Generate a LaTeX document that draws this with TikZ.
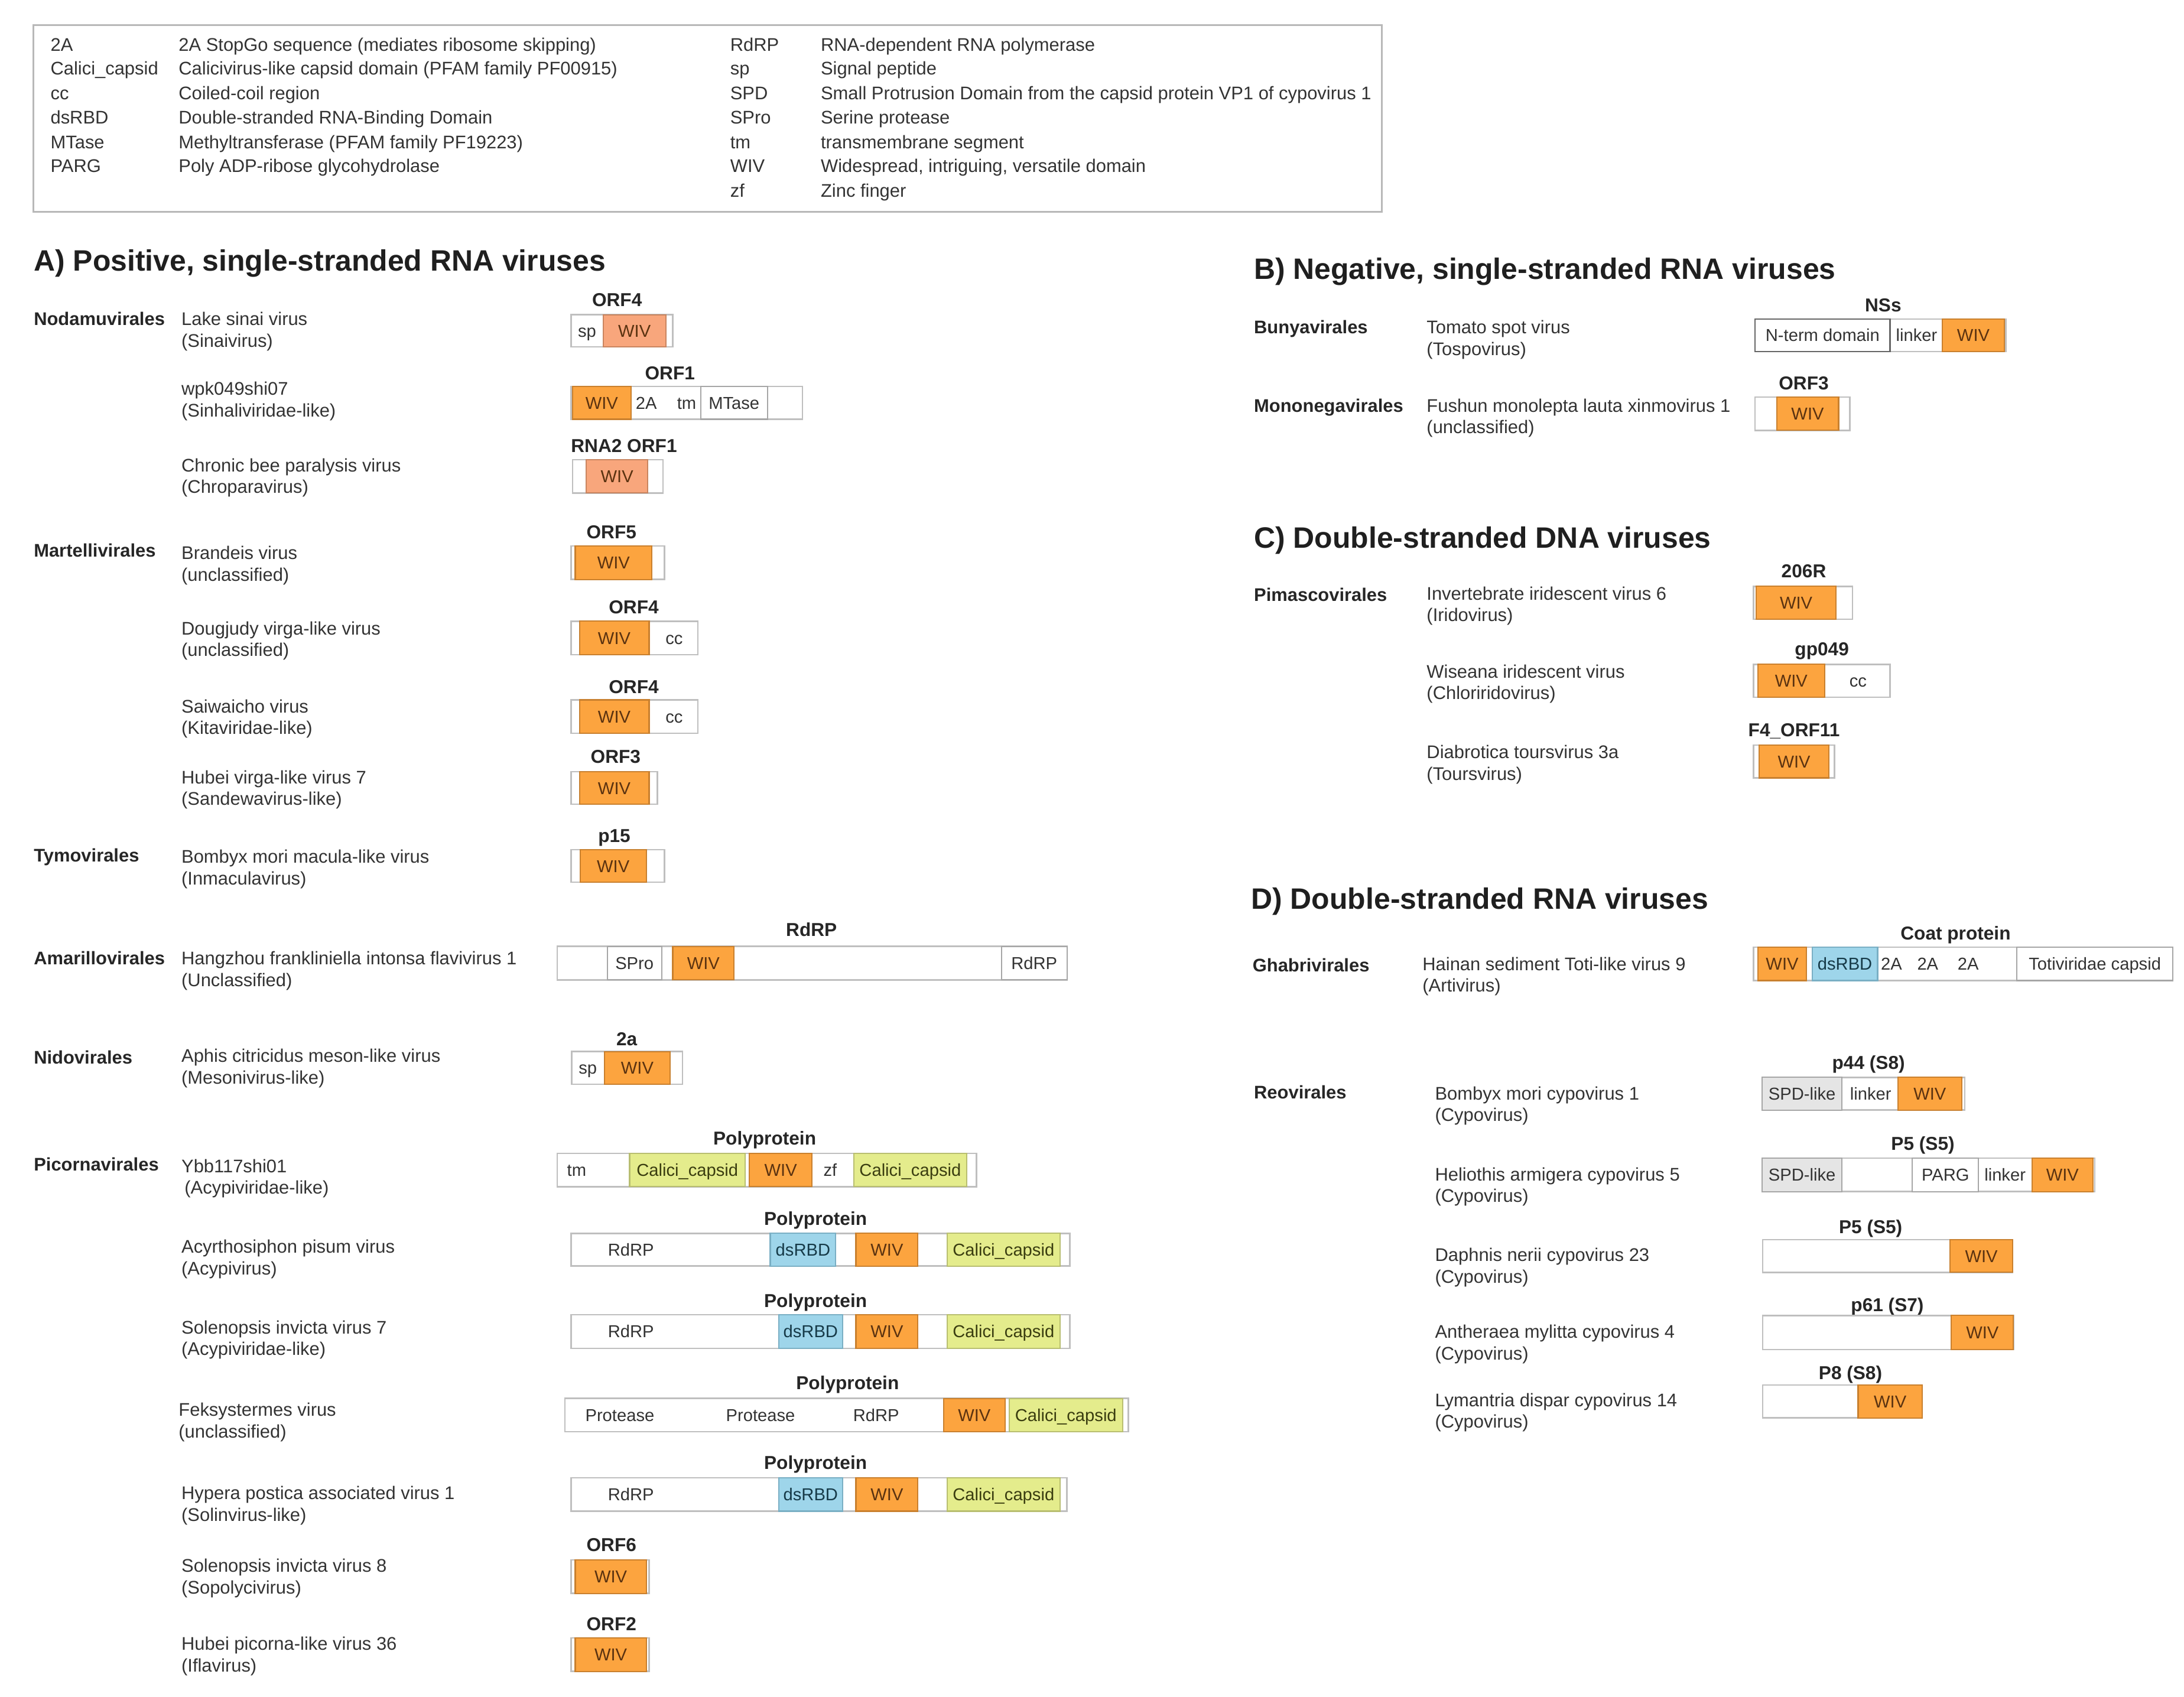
\documentclass[tikz,border=0pt]{standalone}
\usepackage{fontspec}
\setmainfont{Liberation Sans}
\definecolor{txt}{HTML}{333333}
\definecolor{wiv}{HTML}{FCA43F}
\definecolor{wivd}{HTML}{C9802E}
\definecolor{wivt}{HTML}{5A3210}
\definecolor{sal}{HTML}{F8A67C}
\definecolor{sald}{HTML}{C98560}
\definecolor{cal}{HTML}{E4EC8C}
\definecolor{cald}{HTML}{B8BE70}
\definecolor{calt}{HTML}{3A3D10}
\definecolor{dsr}{HTML}{9ED5EA}
\definecolor{dsd}{HTML}{7AAFC4}
\definecolor{dst}{HTML}{163A48}
\tikzset{
  vn/.style={anchor=west, inner sep=0pt, text height=6.3pt, text depth=0pt, font=\fontsize{8.8}{10}\selectfont, text=txt},
  ordl/.style={vn, font=\fontsize{8.8}{10}\selectfont\bfseries, text=black!85},
  ttl/.style={anchor=west, inner sep=0pt, text height=10.2pt, text depth=0pt, font=\fontsize{14.2}{16}\selectfont\bfseries, text=black!88},
  plabel/.style={inner sep=0pt, text height=6.4pt, text depth=0pt, font=\fontsize{9}{10}\selectfont\bfseries, text=black!85},
  dtx/.style={inner sep=0pt, text height=5.95pt, text depth=0pt, font=\fontsize{8.3}{10}\selectfont, text=txt},
  pout/.style={draw=black!25, fill=white, line width=0.7pt},
  wivbox/.style={fill=wiv, draw=wivd, line width=0.6pt},
  wivtxt/.style={text=wivt},
  salbox/.style={fill=sal, draw=sald, line width=0.6pt},
  saltxt/.style={text=wivt},
  calbox/.style={fill=cal, draw=cald, line width=0.6pt},
  caltxt/.style={text=calt},
  dsbox/.style={fill=dsr, draw=dsd, line width=0.6pt},
  dstxt/.style={text=dst},
  spdbox/.style={fill=black!10, draw=black!35, line width=0.6pt},
  spdtxt/.style={text=txt},
  whbox/.style={fill=white, draw=black!35, line width=0.6pt},
  whtxt/.style={text=txt},
  ntmbox/.style={fill=white, draw=black!60, line width=0.7pt},
  ntmtxt/.style={text=txt},
  legbox/.style={draw=black!28, line width=0.8pt}
}
\newcommand\vir[5]{\node[vn] (#1) at (#2,#3) {#4};\node[vn] (#1s) at (#2,{#3+15.5}) {#5};}
\newcommand\plab[4]{\node[plabel] (#1) at (#2,#3) {#4};}
\newcommand\pbar[4]{\draw[pout] (#1,#3) rectangle (#2,#4);}
\newcommand\ptxt[4]{\node[dtx] (#1) at (#2,#3) {#4};}
\newcommand\pdom[7]{\draw[#1box] (#2,#4) rectangle (#3,#5);\node[dtx,#1txt] (#6) at ({(#2+#3)/2},{(#4+#5)/2}) {#7};}
\begin{document}
\begin{tikzpicture}[x=0.02357cm,y=-0.02357cm]
\fill[white] (0,0) rectangle (1568,1218.4);
\useasboundingbox (0,0) rectangle (1568,1218.4);

% ---------------- legend ----------------
\draw[legbox] (24,18) rectangle (992,152);
\node[vn] (l1) at (36,32) {2A};
\node[vn] (l1d) at (128,32) {2A StopGo sequence (mediates ribosome skipping)};
\node[vn] (l2) at (36,49) {Calici\_capsid};
\node[vn] (l2d) at (128,49) {Calicivirus-like capsid domain (PFAM family PF00915)};
\node[vn] (l3) at (36,67) {cc};
\node[vn] (l3d) at (128,67) {Coiled-coil region};
\node[vn] (l4) at (36,84) {dsRBD};
\node[vn] (l4d) at (128,84) {Double-stranded RNA-Binding Domain};
\node[vn] (l5) at (36,102) {MTase};
\node[vn] (l5d) at (128,102) {Methyltransferase (PFAM family PF19223)};
\node[vn] (l6) at (36,119) {PARG};
\node[vn] (l6d) at (128,119) {Poly ADP-ribose glycohydrolase};
\node[vn] (r1) at (524,32) {RdRP};
\node[vn] (r1d) at (589,32) {RNA-dependent RNA polymerase};
\node[vn] (r2) at (524,49) {sp};
\node[vn] (r2d) at (589,49) {Signal peptide};
\node[vn] (r3) at (524,67) {SPD};
\node[vn] (r3d) at (589,67) {Small Protrusion Domain from the capsid protein VP1 of cypovirus 1};
\node[vn] (r4) at (524,84) {SPro};
\node[vn] (r4d) at (589,84) {Serine protease};
\node[vn] (r5) at (524,102) {tm};
\node[vn] (r5d) at (589,102) {transmembrane segment};
\node[vn] (r6) at (524,119) {WIV};
\node[vn] (r6d) at (589,119) {Widespread, intriguing, versatile domain};
\node[vn] (r7) at (524,137) {zf};
\node[vn] (r7d) at (589,137) {Zinc finger};

% ---------------- titles ----------------
\node[ttl] (tA) at (24,187) {A) Positive, single-stranded RNA viruses};
\node[ttl] (tB) at (900,193) {B) Negative, single-stranded RNA viruses};
\node[ttl] (tC) at (900,386) {C) Double-stranded DNA viruses};
\node[ttl] (tD) at (898,645) {D) Double-stranded RNA viruses};

% ---------------- orders ----------------
\node[ordl] (oa1) at (24,229) {Nodamuvirales};
\node[ordl] (oa2) at (24,395) {Martellivirales};
\node[ordl] (oa3) at (24,614) {Tymovirales};
\node[ordl] (oa4) at (24,688) {Amarillovirales};
\node[ordl] (oa5) at (24,759) {Nidovirales};
\node[ordl] (oa6) at (24,836) {Picornavirales};
\node[ordl] (ob1) at (900,235) {Bunyavirales};
\node[ordl] (ob2) at (900,291) {Mononegavirales};
\node[ordl] (oc1) at (900,427) {Pimascovirales};
\node[ordl] (od1) at (899,693) {Ghabrivirales};
\node[ordl] (od2) at (900,784) {Reovirales};

% ---------------- virus names ----------------
\vir{va1}{130}{229}{Lake sinai virus}{(Sinaivirus)}
\vir{va2}{130}{279}{wpk049shi07}{(Sinhaliviridae-like)}
\vir{va3}{130}{334}{Chronic bee paralysis virus}{(Chroparavirus)}
\vir{va4}{130}{397}{Brandeis virus}{(unclassified)}
\vir{va5}{130}{451}{Dougjudy virga-like virus}{(unclassified)}
\vir{va6}{130}{507}{Saiwaicho virus}{(Kitaviridae-like)}
\vir{va7}{130}{558}{Hubei virga-like virus 7}{(Sandewavirus-like)}
\vir{va8}{130}{615}{Bombyx mori macula-like virus}{(Inmaculavirus)}
\vir{va9}{130}{688}{Hangzhou frankliniella intonsa flavivirus 1}{(Unclassified)}
\vir{va10}{130}{758}{Aphis citricidus meson-like virus}{(Mesonivirus-like)}
\vir{va11}{130}{837}{Ybb117shi01}{\hspace{1.5pt}(Acypiviridae-like)}
\vir{va12}{130}{895}{Acyrthosiphon pisum virus}{(Acypivirus)}
\vir{va13}{130}{953}{Solenopsis invicta virus 7}{(Acypiviridae-like)}
\vir{va14}{128}{1012}{Feksystermes virus}{(unclassified)}
\vir{va15}{130}{1072}{Hypera postica associated virus 1}{(Solinvirus-like)}
\vir{va16}{130}{1124}{Solenopsis invicta virus 8}{(Sopolycivirus)}
\vir{va17}{130}{1180}{Hubei picorna-like virus 36}{(Iflavirus)}
\vir{vb1}{1024}{235}{Tomato spot virus}{(Tospovirus)}
\vir{vb2}{1024}{291}{Fushun monolepta lauta xinmovirus 1}{(unclassified)}
\vir{vc1}{1024}{426}{Invertebrate iridescent virus 6}{(Iridovirus)}
\vir{vc2}{1024}{482}{Wiseana iridescent virus}{(Chloriridovirus)}
\vir{vc3}{1024}{540}{Diabrotica toursvirus 3a}{(Toursvirus)}
\vir{vd1}{1021}{692}{Hainan sediment Toti-like virus 9}{(Artivirus)}
\vir{vd2}{1030}{785}{Bombyx mori cypovirus 1}{(Cypovirus)}
\vir{vd3}{1030}{843}{Heliothis armigera cypovirus 5}{(Cypovirus)}
\vir{vd4}{1030}{901}{Daphnis nerii cypovirus 23}{(Cypovirus)}
\vir{vd5}{1030}{956}{Antheraea mylitta cypovirus 4}{(Cypovirus)}
\vir{vd6}{1030}{1005}{Lymantria dispar cypovirus 14}{(Cypovirus)}

% ---------------- proteins A ----------------
\plab{pa1}{443}{215}{ORF4}
\pbar{410}{483}{226}{249}
\ptxt{pa1s}{421.5}{237.5}{sp}
\pdom{sal}{433}{478}{226}{249}{pa1w}{WIV}

\plab{pa2}{481}{268}{ORF1}
\pbar{410}{576}{277.5}{301}
\pdom{wiv}{411}{453}{277.5}{301}{pa2w}{WIV}
\ptxt{pa2a}{464}{289.25}{2A}
\ptxt{pa2t}{493}{289.25}{tm}
\pdom{wh}{503}{551}{277.5}{301}{pa2m}{MTase}

\plab{pa3}{448}{320}{RNA2 ORF1}
\pbar{411}{476}{330}{354}
\pdom{sal}{421}{465}{330}{354}{pa3w}{WIV}

\plab{pa4}{439}{382}{ORF5}
\pbar{410}{477}{392}{416}
\pdom{wiv}{413}{468}{392}{416}{pa4w}{WIV}

\plab{pa5}{455}{436}{ORF4}
\pbar{410}{501}{446}{470}
\pdom{wiv}{416}{466}{446}{470}{pa5w}{WIV}
\ptxt{pa5c}{484}{458}{cc}

\plab{pa6}{455}{493}{ORF4}
\pbar{410}{501}{502.5}{526.5}
\pdom{wiv}{416}{466}{502.5}{526.5}{pa6w}{WIV}
\ptxt{pa6c}{484}{514.5}{cc}

\plab{pa7}{442}{543}{ORF3}
\pbar{410}{472}{554}{577.5}
\pdom{wiv}{416}{466}{554}{577.5}{pa7w}{WIV}

\plab{pa8}{441}{600}{p15}
\pbar{410}{477}{610}{633.5}
\pdom{wiv}{416.5}{464}{610}{633.5}{pa8w}{WIV}

\plab{pa9}{582.6}{667.5}{RdRP}
\pbar{400}{766}{679.5}{703.5}
\pdom{wh}{436}{475}{679.5}{703.5}{pa9s}{SPro}
\pdom{wiv}{483}{527}{679.5}{703.5}{pa9w}{WIV}
\pdom{wh}{719}{766}{679.5}{703.5}{pa9r}{RdRP}

\plab{pa10}{450}{746}{2a}
\pbar{410.5}{490}{755}{778.5}
\ptxt{pa10s}{422}{766.75}{sp}
\pdom{wiv}{434}{481}{755}{778.5}{pa10w}{WIV}

\plab{pa11}{549}{817}{Polyprotein}
\pbar{400}{701}{828}{852}
\ptxt{pa11t}{414}{840}{tm}
\pdom{cal}{452}{535}{828}{852}{pa11c}{Calici\_capsid}
\pdom{wiv}{538}{583}{828}{852}{pa11w}{WIV}
\ptxt{pa11z}{596}{840}{zf}
\pdom{cal}{613}{694}{828}{852}{pa11d}{Calici\_capsid}

\plab{pa12}{585.5}{875}{Polyprotein}
\pbar{410}{768}{885.5}{909}
\ptxt{pa12r}{453}{897.25}{RdRP}
\pdom{ds}{553}{600}{885.5}{909}{pa12d}{dsRBD}
\pdom{wiv}{614.5}{659}{885.5}{909}{pa12w}{WIV}
\pdom{cal}{680}{761}{885.5}{909}{pa12c}{Calici\_capsid}

\plab{pa13}{585.5}{934}{Polyprotein}
\pbar{410}{768}{944}{968}
\ptxt{pa13r}{453}{956}{RdRP}
\pdom{ds}{559}{605}{944}{968}{pa13d}{dsRBD}
\pdom{wiv}{614.5}{659}{944}{968}{pa13w}{WIV}
\pdom{cal}{680}{761}{944}{968}{pa13c}{Calici\_capsid}

\plab{pa14}{608.5}{993}{Polyprotein}
\pbar{405.5}{810}{1004}{1028}
\ptxt{pa14a}{445}{1016}{Protease}
\ptxt{pa14b}{546}{1016}{Protease}
\ptxt{pa14r}{629}{1016}{RdRP}
\pdom{wiv}{677.5}{721.5}{1004}{1028}{pa14w}{WIV}
\pdom{cal}{724.5}{806}{1004}{1028}{pa14c}{Calici\_capsid}

\plab{pa15}{585.5}{1050}{Polyprotein}
\pbar{410}{766}{1061}{1085}
\ptxt{pa15r}{453}{1073}{RdRP}
\pdom{ds}{559}{605}{1061}{1085}{pa15d}{dsRBD}
\pdom{wiv}{614.5}{659}{1061}{1085}{pa15w}{WIV}
\pdom{cal}{680}{761}{1061}{1085}{pa15c}{Calici\_capsid}

\plab{pa16}{439}{1109}{ORF6}
\pbar{410}{466}{1120}{1144}
\pdom{wiv}{413}{464}{1120}{1144}{pa16w}{WIV}

\plab{pa17}{439}{1166}{ORF2}
\pbar{410}{466}{1176}{1200}
\pdom{wiv}{413}{464}{1176}{1200}{pa17w}{WIV}

% ---------------- proteins B ----------------
\plab{pb1}{1352}{219}{NSs}
\pbar{1260}{1440}{229}{252.5}
\pdom{ntm}{1260}{1357}{229}{252.5}{pb1n}{N-term domain}
\ptxt{pb1l}{1376}{240.75}{linker}
\pdom{wiv}{1394.5}{1439}{229}{252.5}{pb1w}{WIV}

\plab{pb2}{1295}{275}{ORF3}
\pbar{1260}{1328}{285}{309}
\pdom{wiv}{1275.5}{1320}{285}{309}{pb2w}{WIV}

% ---------------- proteins C ----------------
\plab{pc1}{1295}{410}{206R}
\pbar{1259}{1330}{421}{444.5}
\pdom{wiv}{1261}{1318}{421}{444.5}{pc1w}{WIV}

\plab{pc2}{1308}{466}{gp049}
\pbar{1259}{1357}{477}{500.5}
\pdom{wiv}{1262}{1310}{477}{500.5}{pc2w}{WIV}
\ptxt{pc2c}{1334}{488.75}{cc}

\plab{pc3}{1288}{524}{F4\_ORF11}
\pbar{1259}{1317}{535}{558.5}
\pdom{wiv}{1263}{1313}{535}{558.5}{pc3w}{WIV}

% ---------------- proteins D ----------------
\plab{pd1}{1404}{670}{Coat protein}
\pbar{1259}{1560}{680}{704}
\pdom{wiv}{1262}{1297}{680}{704}{pd1w}{WIV}
\pdom{ds}{1301}{1348}{680}{704}{pd1d}{dsRBD}
\ptxt{pd1a}{1358}{692}{2A}
\ptxt{pd1b}{1384}{692}{2A}
\ptxt{pd1c}{1413}{692}{2A}
\pdom{wh}{1448}{1560}{680}{704}{pd1t}{Totiviridae capsid}

\plab{pd2}{1341.5}{763}{p44 (S8)}
\pbar{1265}{1410.5}{773.5}{797}
\pdom{spd}{1265}{1322.5}{773.5}{797}{pd2s}{SPD-like}
\ptxt{pd2l}{1343}{785.25}{linker}
\pdom{wiv}{1362.5}{1408.5}{773.5}{797}{pd2w}{WIV}

\plab{pd3}{1380.5}{821}{P5 (S5)}
\pbar{1265}{1504}{831.5}{855.5}
\pdom{spd}{1265}{1322.5}{831.5}{855.5}{pd3s}{SPD-like}
\pdom{wh}{1373}{1420.5}{831.5}{855.5}{pd3p}{PARG}
\ptxt{pd3l}{1439.5}{843.5}{linker}
\pdom{wiv}{1459}{1502.5}{831.5}{855.5}{pd3w}{WIV}

\plab{pd4}{1343}{881}{P5 (S5)}
\pbar{1265.5}{1445}{890}{913.5}
\pdom{wiv}{1400}{1445}{890}{913.5}{pd4w}{WIV}

\plab{pd5}{1355}{937}{p61 (S7)}
\pbar{1265.5}{1445.5}{944.5}{969}
\pdom{wiv}{1401}{1445.5}{944.5}{969}{pd5w}{WIV}

\plab{pd6}{1328.5}{985.5}{P8 (S8)}
\pbar{1265.5}{1380}{994.5}{1018}
\pdom{wiv}{1334}{1380}{994.5}{1018}{pd6w}{WIV}
\end{tikzpicture}
\end{document}
